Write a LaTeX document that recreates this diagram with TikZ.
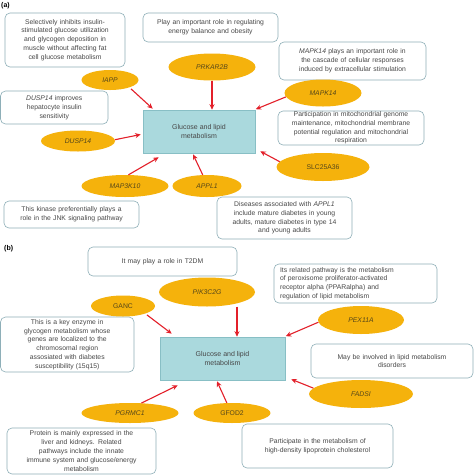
\documentclass[tikz,border=0pt]{standalone}
\usepackage{fontspec}
\setmainfont{Liberation Sans}
\usetikzlibrary{shapes.geometric,arrows.meta,calc}
\definecolor{boxc}{HTML}{8EAFB8}
\definecolor{cenfill}{HTML}{AAD9DD}
\definecolor{cenbord}{HTML}{88BFC5}
\definecolor{ellfill}{HTML}{F5B20C}
\definecolor{txt}{HTML}{474747}
\definecolor{gtxt}{HTML}{54461A}
\definecolor{arrc}{HTML}{E3202A}
\begin{document}
\begin{tikzpicture}[x=1pt,y=-1pt,
 fnt/.style={font=\fontsize{6.8}{8.8}\selectfont},
 infobox/.style={draw=boxc, line width=0.6pt, rounded corners=5pt, align=center, text=txt, fnt, inner sep=0pt},
 gene/.style={ellipse, fill=ellfill, text=gtxt, font=\fontsize{6.8}{8.8}\selectfont\itshape, inner sep=0pt},
 genert/.style={ellipse, fill=ellfill, text=gtxt, fnt, inner sep=0pt},
 metab/.style={draw=cenbord, fill=cenfill, line width=0.6pt, align=center, text=txt, font=\fontsize{7}{9}\selectfont, inner sep=0pt},
 arr/.style={draw=arrc, line width=1.1pt, -{Stealth[length=5.5pt,width=5pt]}},
 lbl/.style={font=\fontsize{7}{8}\selectfont\bfseries, text=black, inner sep=0pt}
]
\useasboundingbox[fill=white] (0,0) rectangle (474,475);

% ---------------- panel (a)
\node[lbl, anchor=north west] (la) at (1,2) {(a)};

\node[infobox, minimum width=120pt, minimum height=54pt, text width=114pt] (a1) at (65,40)
 {Selectively inhibits insulin-\\stimulated glucose utilization\\and glycogen deposition in\\muscle without affecting fat\\cell glucose metabolism};
\node[infobox, minimum width=135pt, minimum height=29pt, text width=129pt] (a2) at (210.5,27.5)
 {Play an important role in regulating\\energy balance and obesity};
\node[infobox, minimum width=147pt, minimum height=38pt, text width=141pt] (a3) at (352.5,61)
 {\textit{MAPK14} plays an important role in\\the cascade of cellular responses\\induced by extracellular stimulation};
\node[infobox, minimum width=107.5pt, minimum height=33pt, text width=101pt] (a4) at (54.25,107.5)
 {\textit{DUSP14} improves\\hepatocyte insulin\\sensitivity};
\node[infobox, minimum width=146pt, minimum height=34pt, text width=142pt] (a5) at (351,128)
 {Participation in mitochondrial genome\\maintenance, mitochondrial membrane\\potential regulation and mitochondrial\\respiration};
\node[infobox, minimum width=135pt, minimum height=27pt, text width=129pt] (a6) at (71.5,214.5)
 {This kinase preferentially plays a\\role in the JNK signaling pathway};
\node[infobox, minimum width=135pt, minimum height=42pt, text width=129pt] (a7) at (284.5,218)
 {Diseases associated with \textit{APPL1}\\include mature diabetes in young\\adults, mature diabetes in type 14\\and young adults};

\node[metab, minimum width=112pt, minimum height=43pt] (ca) at (199,131.5) {Glucose and lipid\\metabolism};

\node[gene, minimum width=57pt, minimum height=20pt] (iapp) at (110,80) {IAPP};
\node[gene, minimum width=87pt, minimum height=27pt] (prk) at (212,67) {PRKAR2B};
\node[gene, minimum width=77pt, minimum height=27pt] (mapk) at (323,93) {MAPK14};
\node[gene, minimum width=74pt, minimum height=21pt] (dus) at (78,141) {DUSP14};
\node[genert, minimum width=93pt, minimum height=28pt] (slc) at (323,167) {SLC25A36};
\node[gene, minimum width=87pt, minimum height=22pt] (m3k) at (125,186) {MAP3K10};
\node[gene, minimum width=69pt, minimum height=22pt] (appl) at (207,186) {APPL1};

\draw[arr, shorten <=2pt] (iapp.-21) -- ($(ca.north west)+(10,-1)$);
\draw[arr] (prk.south) -- (prk.south |- ca.north);
\draw[arr] (mapk.186) -- ($(ca.north east)+(0.5,-0.5)$);
\draw[arr] (dus.2) -- ($(ca.west)+(-2,3)$);
\draw[arr] (m3k.73) -- ($(ca.south west)+(16,4)$);
\draw[arr] (appl.111) -- ($(ca.south)+(-6,1)$);
\draw[arr] (slc.173) -- ($(ca.south east)+(5,-2)$);

% ---------------- panel (b)
\node[lbl, anchor=north west] (lb) at (4,245) {(b)};

\node[infobox, minimum width=149pt, minimum height=29pt, text width=143pt] (b1) at (162.5,261.5)
 {It may play a role in T2DM};
\node[infobox, minimum width=163pt, minimum height=39pt, text width=151pt, align=left] (b2) at (355.5,283.5)
 {Its related pathway is the metabolism\\of peroxisome proliferator-activated\\receptor alpha (PPARalpha) and\\regulation of lipid metabolism};
\node[infobox, minimum width=133.5pt, minimum height=55pt, text width=127pt] (b3) at (67.25,344.5)
 {This is a key enzyme in\\glycogen metabolism whose\\genes are localized to the\\chromosomal region\\assosiated with diabetes\\susceptibility (15q15)};
\node[infobox, minimum width=162pt, minimum height=34pt, text width=156pt] (b4) at (392,361)
 {May be involved in lipid metabolism\\disorders};
\node[infobox, minimum width=149pt, minimum height=46pt, text width=143pt] (b5) at (81.5,451)
 {Protein is mainly expressed in the\\liver and kidneys. Related\\pathways include the innate\\immune system and glucose/energy\\metabolism};
\node[infobox, minimum width=151pt, minimum height=44pt, text width=145pt] (b6) at (317.5,446)
 {Participate in the metabolism of\\high-density lipoprotein cholesterol};

\node[metab, minimum width=125pt, minimum height=43pt] (cb) at (222.5,358.5) {Glucose and lipid\\metabolism};

\node[gene, minimum width=96pt, minimum height=29pt] (pik) at (207,292) {PIK3C2G};
\node[genert, minimum width=64pt, minimum height=21pt] (ganc) at (123,306) {GANC};
\node[gene, minimum width=86pt, minimum height=28pt] (pex) at (361,320) {PEX11A};
\node[gene, minimum width=104pt, minimum height=28pt] (fad) at (361,394) {FADSI};
\node[gene, minimum width=97pt, minimum height=20pt] (pg) at (130,413) {PGRMC1};
\node[genert, minimum width=77pt, minimum height=20pt] (gf) at (232,413) {GFOD2};

\draw[arr, shorten <=2pt] (ganc.-19) -- ($(cb.north west)+(12,-3)$);
\draw[arr, shorten <=3pt] (pik.-21) -- (pik.-21 |- cb.north);
\draw[arr] (pex.183) -- ($(cb.north east)+(0.5,-0.5)$);
\draw[arr] (pg.41) -- ($(cb.south west)+(18,5)$);
\draw[arr] (gf.117) -- ($(cb.south)+(-5.5,1)$);
\draw[arr] (fad.173) -- ($(cb.south east)+(6,-1)$);
\end{tikzpicture}
\end{document}
